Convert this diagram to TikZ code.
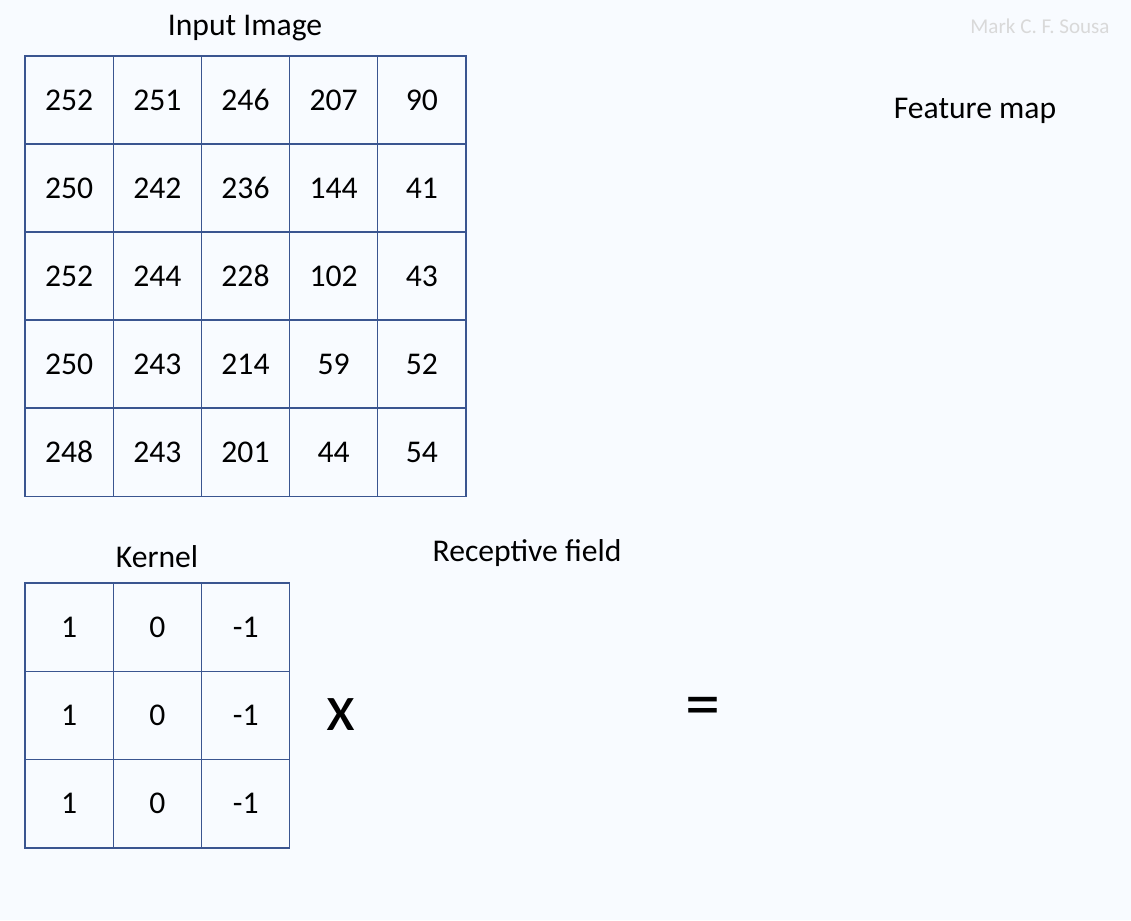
\documentclass[tikz,border=0pt]{standalone}
\usepackage{fontspec}
\setmainfont{Carlito}
\usetikzlibrary{positioning}
\definecolor{bgblue}{HTML}{F8FBFF}
\definecolor{gridblue}{HTML}{3A5590}
\tikzset{
  cell/.style={draw=gridblue, line width=0.7pt, minimum size=1.765cm, inner sep=0pt, font=\fontsize{18}{20}\selectfont},
  lbl/.style={font=\fontsize{18}{20}\selectfont}
}
\begin{document}
\begin{tikzpicture}[x=0.02cm,y=-0.02cm]
    % Background
    \fill[bgblue] (0,0) rectangle (1131,920);
    \useasboundingbox (0,0) rectangle (1131,920);

    % Input image cells
    \foreach \row [count=\r] in {{252,251,246,207,90},{250,242,236,144,41},{252,244,228,102,43},{250,243,214,59,52},{248,243,201,44,54}}
      \foreach \v [count=\c] in \row
        \node[cell] (img\r\c) at ({25+88.2*(\c-0.5)},{56+88*(\r-0.5)}) {\v};

    % Kernel cells
    \foreach \r in {1,2,3}
      \foreach \v [count=\c] in {1,0,-1}
        \node[cell] (ker\r\c) at ({25+88.3*(\c-0.5)},{583+88.3*(\r-0.5)}) {\v};

    % Labels
    \node[lbl] (imglabel) at (245,28) {Input Image};
    \node[lbl] (featlabel) at (975,111) {Feature map};
    \node[lbl] (kerlabel) at (157,557) {Kernel};
    \node[lbl] (reclabel) at (527,553) {Receptive field};
    \node[font=\fontsize{38}{40}\selectfont] (times) at (341,715) {x};
    \node[font=\fontsize{40}{42}\selectfont] (equals) at (703,712) {=};
    \node[text=black!15, font=\fontsize{12}{14}\selectfont] (author) at (1040,26) {Mark C. F. Sousa};
\end{tikzpicture}
\end{document}
